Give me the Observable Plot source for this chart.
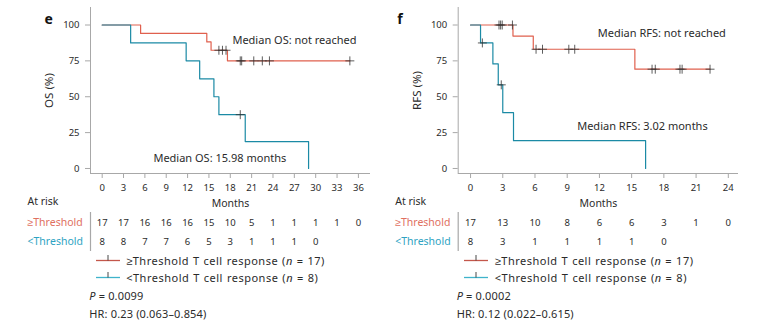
<!DOCTYPE html>
<html><head><meta charset="utf-8">
<script src="https://cdn.jsdelivr.net/npm/d3@7"></script>
<script src="https://cdn.jsdelivr.net/npm/@observablehq/plot@0.6"></script>
<style>
body{margin:0;background:#fff;font-family:"Noto Sans",sans-serif;color:#2b2b2b}
#fig{position:relative;width:771px;height:326px;overflow:hidden;background:#fff}
.panel{position:absolute;top:0;height:326px}
.panel svg{display:block;overflow:visible}
.lg{position:absolute;height:14px;display:flex;align-items:center;font-size:11px;letter-spacing:0.5px;word-spacing:0.6px;white-space:nowrap}
.lg svg{margin-right:6.5px}
.note{position:absolute;height:14px;line-height:14px;font-size:11px;letter-spacing:0.15px;white-space:nowrap}
</style></head><body><div id="fig"></div>
<script>
// ---------- data ----------
const seriesNames = ["≥Threshold", "<Threshold"];
const legendNames = ["≥Threshold T cell response (n = 17)", "<Threshold T cell response (n = 8)"];
const curveColors = ["#e0604e", "#1b8aa5"];
const legendColors = ["#c4574b", "#3fb3cb"];
const labelColors = ["#e0705f", "#2ea3c3"];
const yTicks = [0, 25, 50, 75, 100];

// Overall survival (panel e)
const osTicks = [0, 3, 6, 9, 12, 15, 18, 21, 24, 27, 30, 33, 36];
const osHighTimes = [0, 5.4, 14.7, 15.3, 17.6, 34.8];
const osHighSurv = [100, 94.1, 88.2, 82.4, 75.0, 75.0];
const osHighCensTimes = [16.4, 16.9, 17.4, 19.4, 19.6, 21.3, 22.5, 23.5, 34.8];
const osHighCensSurv = [82.4, 82.4, 82.4, 75, 75, 75, 75, 75, 75];
const osLowTimes = [0, 4.0, 11.8, 13.7, 15.7, 16.4, 20.1, 29.0];
const osLowSurv = [100, 87.5, 75, 62.5, 50, 37.5, 18.75, 0];
const osLowCensTimes = [19.4];
const osLowCensSurv = [37.5];
const osRiskHigh = [17, 17, 16, 16, 16, 15, 10, 5, 1, 1, 1, 1, 0];
const osRiskLow = [8, 8, 7, 7, 6, 5, 3, 1, 1, 1, 0];
const osNotes = ["Median OS: not reached", "Median OS: 15.98 months"];
const osNoteX = [18.3, 7.2];
const osNoteY = [89.2, 7.2];

// Relapse-free survival (panel f)
const rfsTicks = [0, 3, 6, 9, 12, 15, 18, 21, 24];
const rfsHighTimes = [0, 3.95, 5.84, 15.3, 22.3];
const rfsHighSurv = [100, 92.3, 83.1, 69.2, 69.2];
const rfsHighCensTimes = [2.65, 2.8, 2.95, 3.9, 6.1, 6.7, 9.15, 9.7, 16.9, 17.2, 19.5, 19.7, 22.3];
const rfsHighCensSurv = [100, 100, 100, 100, 83.1, 83.1, 83.1, 83.1, 69.2, 69.2, 69.2, 69.2, 69.2];
const rfsLowTimes = [0, 0.93, 2.08, 2.58, 3.0, 4.0, 16.3];
const rfsLowSurv = [100, 87.5, 72.9, 58.3, 38.9, 19.4, 0];
const rfsLowCensTimes = [1.1, 2.86];
const rfsLowCensSurv = [87.5, 58.3];
const rfsRiskHigh = [17, 13, 10, 8, 6, 6, 3, 1, 0];
const rfsRiskLow = [8, 3, 1, 1, 1, 1, 0];
const rfsNotes = ["Median RFS: not reached", "Median RFS: 3.02 months"];
const rfsNoteX = [11.85, 9.93];
const rfsNoteY = [93.9, 29.3];

// ---------- helpers ----------
const FONT = '"Noto Sans", sans-serif';
const AXIS = "#a8a8a8";
const INK = "#2b2b2b";
const yDom = [-3.5, 112.2];
const rows = (ts, ss, g) => ts.map((t, i) => ({t, s: ss[i], g}));
const esc = s => s.replace(/&/g, "&amp;").replace(/</g, "&lt;").replace(/>/g, "&gt;");
const italN = s => esc(s).replace("(n =", "(<i>n</i> =");

function panel(cfg) {
  const div = document.createElement("div");
  div.className = "panel";
  div.style.left = cfg.left + "px";
  div.style.width = cfg.width + "px";

  const curves = [...rows(cfg.hiT, cfg.hiS, seriesNames[0]), ...rows(cfg.loT, cfg.loS, seriesNames[1])];
  const cens = [...rows(cfg.hiCT, cfg.hiCS, seriesNames[0]), ...rows(cfg.loCT, cfg.loCS, seriesNames[1])];
  const notes = cfg.notes.map((text, i) => ({text, x: cfg.noteX[i], y: cfg.noteY[i]}));

  const main = Plot.plot({
    width: cfg.width, height: 212,
    marginLeft: cfg.ml, marginRight: cfg.mr, marginTop: 7, marginBottom: 39,
    x: {domain: cfg.xdom},
    y: {domain: yDom},
    color: {domain: seriesNames, range: curveColors},
    style: {fontFamily: FONT, fontSize: "9.5px", color: INK, background: "transparent"},
    marks: [
      Plot.ruleX([cfg.xdom[0]], {stroke: AXIS, strokeWidth: 1}),
      Plot.ruleY([yDom[0]], {stroke: AXIS, strokeWidth: 1}),
      Plot.axisX({ticks: cfg.ticks, tickSize: 5, tickPadding: 5.5, stroke: AXIS, label: null}),
      Plot.axisX({ticks: [], tickSize: 0, label: "Months", labelAnchor: "center", labelOffset: 33, labelArrow: "none", fontSize: 10.5}),
      Plot.axisY({ticks: yTicks, tickSize: 5, tickPadding: 6, stroke: AXIS, label: null}),
      Plot.axisY({ticks: [], tickSize: 0, label: cfg.ylabel, labelAnchor: "center", labelOffset: 45.5, labelArrow: "none", fontSize: 11.5}),
      Plot.line(curves, {x: "t", y: "s", z: "g", stroke: "g", curve: "step-after", strokeWidth: 1.2}),
      Plot.dot(cens, {x: "t", y: "s", symbol: "plus", r: 3, stroke: "#333", strokeWidth: 0.8}),
      Plot.text(notes, {x: "x", y: "y", text: "text", textAnchor: "start", fontSize: 11, fill: INK}),
      Plot.text([cfg.letter], {frameAnchor: "top-left", dx: cfg.letterDx, dy: 7, fontWeight: "bold", fontSize: 14, fill: "#111"}),
      Plot.text(["At risk"], {frameAnchor: "bottom-left", dx: -63, dy: 31, textAnchor: "start", fontSize: 10.5, fill: INK})
    ]
  });
  div.appendChild(main);

  const risk = [
    ...cfg.riskHi.map((n, i) => ({t: cfg.ticks[i], n, g: seriesNames[0]})),
    ...cfg.riskLo.map((n, i) => ({t: cfg.ticks[i], n, g: seriesNames[1]}))
  ];
  const riskPlot = Plot.plot({
    width: cfg.width, height: 39,
    marginLeft: cfg.ml, marginRight: cfg.mr, marginTop: 0, marginBottom: 0,
    x: {domain: cfg.xdom, axis: null},
    y: {type: "band", domain: seriesNames, axis: null, padding: 0},
    color: {domain: seriesNames, range: labelColors},
    style: {fontFamily: FONT, fontSize: "9.5px", color: INK, background: "transparent"},
    marks: [
      Plot.ruleX([cfg.xdom[0]], {stroke: AXIS, strokeWidth: 1.2}),
      Plot.text(risk, {x: "t", y: "g", text: "n", fill: INK}),
      Plot.text(seriesNames, {y: d => d, text: d => d, frameAnchor: "left", textAnchor: "start", dx: -63, fill: d => d, fontSize: 10.5})
    ]
  });
  riskPlot.style.position = "absolute";
  riskPlot.style.top = "212px";
  riskPlot.style.left = "0px";
  div.appendChild(riskPlot);

  seriesNames.forEach((s, i) => {
    const row = document.createElement("div");
    row.className = "lg";
    row.style.left = cfg.lgLeft + "px";
    row.style.top = (253 + i * 17.3) + "px";
    row.innerHTML = `<svg width="24" height="14"><line x1="0" x2="24" y1="7.5" y2="7.5" stroke="${legendColors[i]}" stroke-width="1.3"/><line x1="12" x2="12" y1="2" y2="7.5" stroke="#333" stroke-width="0.9"/></svg><span>${italN(legendNames[i])}</span>`;
    div.appendChild(row);
  });
  const p = document.createElement("div");
  p.className = "note"; p.style.left = cfg.pLeft + "px"; p.style.top = "289px";
  p.innerHTML = `<i>P</i> = ${cfg.p}`;
  div.appendChild(p);
  const hr = document.createElement("div");
  hr.className = "note"; hr.style.left = cfg.pLeft + "px"; hr.style.top = "307px";
  hr.textContent = `HR: ${cfg.hr}`;
  div.appendChild(hr);
  return div;
}

const fig = document.getElementById("fig");
fig.appendChild(panel({
  left: 0, width: 385, ml: 90, mr: 15, xdom: [-1.64, 37.7], ticks: osTicks, ylabel: "OS (%)", letter: "e", letterDx: -46,
  hiT: osHighTimes, hiS: osHighSurv, loT: osLowTimes, loS: osLowSurv,
  hiCT: osHighCensTimes, hiCS: osHighCensSurv, loCT: osLowCensTimes, loCS: osLowCensSurv,
  notes: osNotes, noteX: osNoteX, noteY: osNoteY, riskHi: osRiskHigh, riskLo: osRiskLow,
  lgLeft: 95.7, pLeft: 89.3, p: "0.0099", hr: "0.23 (0.063–0.854)"
}));
fig.appendChild(panel({
  left: 385, width: 386, ml: 72.7, mr: 33, xdom: [-1.15, 24.95], ticks: rfsTicks, ylabel: "RFS (%)", letter: "f", letterDx: -61,
  hiT: rfsHighTimes, hiS: rfsHighSurv, loT: rfsLowTimes, loS: rfsLowSurv,
  hiCT: rfsHighCensTimes, hiCS: rfsHighCensSurv, loCT: rfsLowCensTimes, loCS: rfsLowCensSurv,
  notes: rfsNotes, noteX: rfsNoteX, noteY: rfsNoteY, riskHi: rfsRiskHigh, riskLo: rfsRiskLow,
  lgLeft: 79.3, pLeft: 71.7, p: "0.0002", hr: "0.12 (0.022–0.615)"
}));
</script></body></html>
